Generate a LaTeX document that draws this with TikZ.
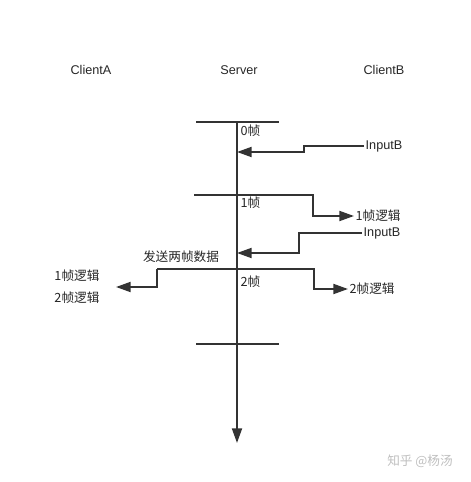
\documentclass[tikz,border=0pt]{standalone}
\usepackage{fontspec}
\setmainfont{Liberation Sans}
\newfontfamily\cjk{Noto Sans CJK SC}
\usepackage{xcolor}
\usepackage{tikz}
\usetikzlibrary{arrows.meta,positioning,calc}

\begin{document}
\begin{tikzpicture}[x=0.75pt, y=-0.75pt,
    line/.style={black!80, line width=1.4pt},
    flow/.style={line, -{Triangle[length=11pt, width=7.5pt]}},
    lbl/.style={black!85, font=\fontsize{9.5}{11}\selectfont, inner sep=1pt},
    cn/.style={black!85, font=\fontsize{9.5}{11}\selectfont\cjk, inner sep=1pt}]
    \useasboundingbox (0,0) rectangle (471,482);

    % Headers
    \node[lbl] (clientA) at (91,70) {ClientA};
    \node[lbl] (server) at (239,70) {Server};
    \node[lbl] (clientB) at (384,70) {ClientB};

    % Server timeline
    \coordinate (top) at (237,122);
    \coordinate (bottom) at (237,443);
    \draw[flow] (top) -- (bottom);

    % Frame ticks
    \coordinate (f0l) at (196,122);
    \coordinate (f0r) at (279,122);
    \coordinate (f1l) at (194,195);
    \coordinate (f1r) at (313,195);
    \coordinate (f2l) at (157,269);
    \coordinate (f2r) at (314,269);
    \coordinate (f3l) at (196,344);
    \coordinate (f3r) at (279,344);
    \draw[line] (f0l) -- (f0r);
    \draw[line] (f3l) -- (f3r);

    % Frame labels
    \node[cn, anchor=west] (frame0) at (239,131) {0帧};
    \node[cn, anchor=west] (frame1) at (239,203) {1帧};
    \node[cn, anchor=west] (frame2) at (239,282) {2帧};

    % Inputs from ClientB
    \node[lbl] (inputB1) at (384,146) {InputB};
    \node[lbl] (inputB2) at (382,233) {InputB};
    \coordinate (recv0) at (237,152);
    \coordinate (recv1) at (237,253);
    \draw[flow] (inputB1.west) -- ($(inputB1.west)+(-60,0)$) |- (recv0);
    \draw[flow] (inputB2.west) -- ($(inputB2.west)+(-63,0)$) |- (recv1);

    % Frame logic to ClientB
    \node[cn, anchor=west] (logic1) at (354,216) {1帧逻辑};
    \node[cn, anchor=west] (logic2) at (348,289) {2帧逻辑};
    \draw[flow] (f1l) -- (f1r) |- (logic1.west);
    \draw[flow] (f2l) -- (f2r) |- (logic2.west);

    % Catch-up data to ClientA
    \node[cn] (send) at (181,257) {发送两帧数据};
    \node[cn] (logicA1) at (77,276) {1帧逻辑};
    \node[cn] (logicA2) at (77,298) {2帧逻辑};
    \coordinate (recvA) at (116,287);
    \draw[flow] (f2l) |- (recvA);

    % Watermark
    \node[black!25, font=\fontsize{9.5}{11}\selectfont\cjk] (mark) at (420,461) {知乎 @杨汤};
\end{tikzpicture}
\end{document}
